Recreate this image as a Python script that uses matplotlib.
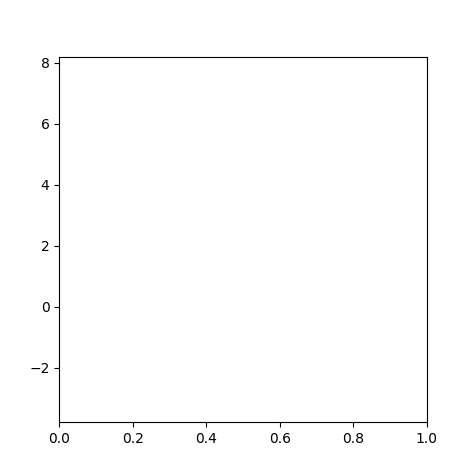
import matplotlib
matplotlib.use("Agg")
from matplotlib import pyplot as plt

# axis ranges (nothing is plotted in it)
x_range = [0.0, 1.0]
y_range = [-3.77, 8.19]

fig, ax = plt.subplots(figsize=(4.74, 4.74), dpi=100)
ax.set_xlim(x_range)
ax.set_ylim(y_range)

fig.savefig("out.png", dpi=100)
